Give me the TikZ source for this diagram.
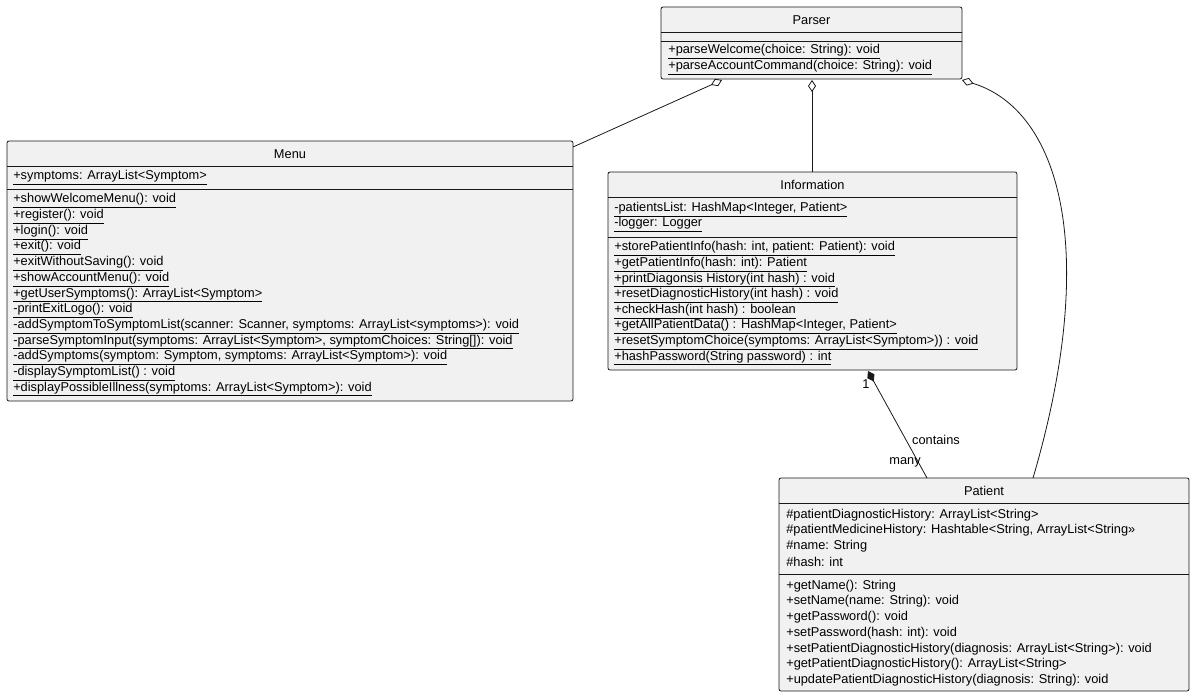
\documentclass[tikz,border=0pt]{standalone}
\usepackage{fontspec}
\setmainfont{Liberation Sans}
\usetikzlibrary{arrows.meta}
\definecolor{bx}{HTML}{F1F1F1}
\definecolor{ln}{HTML}{181818}
\begin{document}
\begin{tikzpicture}[x=0.75pt,y=-0.75pt,
  box/.style={draw=ln,fill=bx,rounded corners=1.5pt,line width=0.6pt},
  t/.style={anchor=west,inner sep=0pt,font=\fontsize{9.6}{11}\selectfont},
  ttl/.style={inner sep=0pt,font=\fontsize{9.6}{11}\selectfont},
  sep/.style={draw=ln,line width=0.6pt},
  con/.style={draw=ln,line width=0.6pt},
  agg/.style={con,{Diamond[open,length=9pt,width=6pt]}-},
  comp/.style={con,{Diamond[length=9pt,width=6pt]}-}]
\useasboundingbox (0,0) rectangle (1198,697);
% Parser
\path[box] (661,7) rectangle (962,79);
\node[ttl] (parser) at (811.5,20) {Parser};
\draw[sep] (661,32)--(962,32); \draw[sep] (661,41)--(962,41);
\node[t] at (668,52) {\underline{+parseWelcome(choice: String): void}};
\node[t] at (668,68) {\underline{+parseAccountCommand(choice: String): void}};
\coordinate (pA) at (722,80); \coordinate (pB) at (812,80); \coordinate (pC) at (962,80);
% Menu
\path[box] (7,141) rectangle (573,401);
\node[ttl] (menu) at (290,154) {Menu};
\draw[sep] (7,166)--(573,166); \draw[sep] (7,189)--(573,189);
\node[t] at (13,178) {\underline{+symptoms: ArrayList<Symptom>}};
\foreach \s [count=\i from 0] in {
 +showWelcomeMenu(): void, +register(): void, +login(): void, +exit(): void,
 +exitWithoutSaving(): void, +showAccountMenu(): void,
 +getUserSymptoms(): ArrayList<Symptom>, -printExitLogo(): void,
 {-addSymptomToSymptomList(scanner: Scanner, symptoms: ArrayList<symptoms>): void},
 {-parseSymptomInput(symptoms: ArrayList<Symptom>, symptomChoices: String[]): void},
 {-addSymptoms(symptom: Symptom, symptoms: ArrayList<Symptom>): void},
 -displaySymptomList() : void,
 +displayPossibleIllness(symptoms: ArrayList<Symptom>): void}
 \node[t] at (13,201+15.67*\i) {\underline{\s}};
\coordinate (mA) at (573,147);
% Information
\path[box] (608,172) rectangle (1017,370);
\node[ttl] (info) at (812.5,185) {Information};
\draw[sep] (608,197)--(1017,197); \draw[sep] (608,237)--(1017,237);
\node[t] at (614,210) {\underline{-patientsList: HashMap<Integer, Patient>}};
\node[t] at (614,225) {\underline{-logger: Logger}};
\foreach \s [count=\i from 0] in {
 {+storePatientInfo(hash: int, patient: Patient): void},
 +getPatientInfo(hash: int): Patient,
 +printDiagonsis History(int hash) : void,
 +resetDiagnosticHistory(int hash) : void,
 +checkHash(int hash) : boolean,
 {+getAllPatientData() : HashMap<Integer, Patient>},
 +resetSymptomChoice(symptoms: ArrayList<Symptom>)) : void,
 +hashPassword(String password) : int}
 \node[t] at (614,249+15.6*\i) {\underline{\s}};
\coordinate (iT) at (812,172); \coordinate (iB) at (868,371);
% Patient
\path[box] (779,478) rectangle (1189,691);
\node[ttl] (pat) at (984,491) {Patient};
\draw[sep] (779,503)--(1189,503); \draw[sep] (779,574)--(1189,574);
\foreach \s [count=\i from 0] in {
 \#patientDiagnosticHistory: ArrayList<String>,
 {\#patientMedicineHistory: Hashtable<String, ArrayList<String>>},
 \#name: String, \#hash: int}
 \node[t] at (786,515+15.67*\i) {\s};
\foreach \s [count=\i from 0] in {
 +getName(): String, +setName(name: String): void, +getPassword(): void,
 +setPassword(hash: int): void,
 +setPatientDiagnosticHistory(diagnosis: ArrayList<String>): void,
 +getPatientDiagnosticHistory(): ArrayList<String>,
 +updatePatientDiagnosticHistory(diagnosis: String): void}
 \node[t] at (786,586+15.67*\i) {\s};
\coordinate (ptA) at (927,478); \coordinate (ptB) at (1033,478);
% connectors
\draw[agg] (pA) -- (mA);
\draw[agg] (pB) -- (iT);
\draw[agg] (pC) .. controls (1060,110) and (1100,250) .. (ptB);
\draw[comp] (iB) -- (ptA);
\node[ttl] (one) at (866,384) {1};
\node[ttl] (lc) at (936,440) {contains};
\node[ttl] (lm) at (905,462) {many};
\end{tikzpicture}
\end{document}
